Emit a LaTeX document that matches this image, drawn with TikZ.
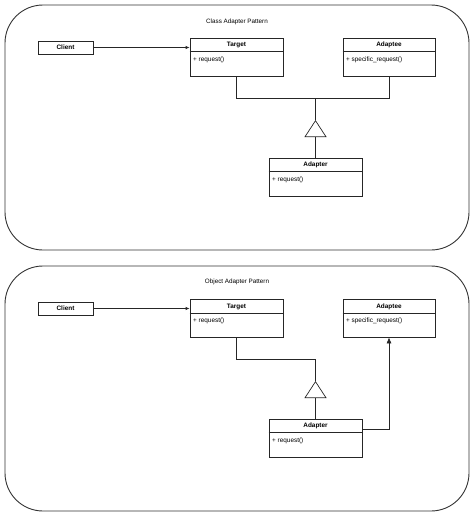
\documentclass[tikz,border=0pt]{standalone}
\usepackage{fontspec}
\setmainfont{Liberation Sans}
\usetikzlibrary{arrows.meta}
\begin{document}
\begin{tikzpicture}[x=1pt,y=-1pt,
  panel/.style={draw=black!80,line width=0.9pt,rounded corners=38pt},
  cls/.style={draw=black!85,line width=0.7pt,minimum width=93pt,minimum height=38pt,inner sep=0pt},
  smallbox/.style={draw=black!85,line width=0.7pt,minimum width=55pt,minimum height=13pt,inner sep=0pt,font=\fontsize{6.4}{7}\selectfont\bfseries},
  cname/.style={font=\fontsize{6.4}{7}\selectfont\bfseries,inner sep=0pt},
  member/.style={font=\fontsize{6.4}{7}\selectfont,inner sep=0pt,anchor=west},
  ttl/.style={font=\fontsize{6.3}{7}\selectfont,inner sep=0pt},
  wire/.style={draw=black!85,line width=0.7pt},
  call/.style={wire,-{Latex[length=4pt,width=3.5pt]}},
  inh/.style={wire,-{Triangle[open,length=17pt,width=22pt,line width=0.7pt]}},
  assoc/.style={wire,-{Latex[length=6pt,width=5pt]}}
]
\useasboundingbox (0,0) rectangle (474,517);

% ---------- Class Adapter Pattern ----------
\node[panel,minimum width=464pt,minimum height=245pt] (p1) at (237,127.5) {};
\node[ttl] (t1) at (237,22) {Class Adapter Pattern};

\node[smallbox] (client1) at (65.5,47.5) {Client};

\node[cls] (target1) at (236.5,57) {};
\draw[wire] (target1.north west) ++(0,14) -- ++(93,0);
\node[cname] (target1n) at (236.5,45) {Target};
\node[member] (target1m) at (193,60) {+ request()};

\node[cls,minimum width=92pt] (adaptee1) at (389,57) {};
\draw[wire] (adaptee1.north west) ++(0,14) -- ++(92,0);
\node[cname] (adaptee1n) at (389,45) {Adaptee};
\node[member] (adaptee1m) at (346,60) {+ specific\_request()};

\node[cls] (adapter1) at (315.5,177) {};
\draw[wire] (adapter1.north west) ++(0,14) -- ++(93,0);
\node[cname] (adapter1n) at (315.5,165) {Adapter};
\node[member] (adapter1m) at (272,180) {+ request()};

\draw[call] (client1.east) -- (target1.west |- client1.east);
\coordinate (j1) at (315.5,98);
\coordinate (tri1) at (315.5,120);
\draw[wire] (target1.south) -- ++(0,22) -| (adaptee1.south);
\draw[inh] (adapter1.north) -- (tri1);
\draw[wire] (tri1) -- (j1);

% ---------- Object Adapter Pattern ----------
\node[panel,minimum width=464pt,minimum height=245pt] (p2) at (237,388.5) {};
\node[ttl] (t2) at (237,282) {Object Adapter Pattern};

\node[smallbox] (client2) at (65.5,308.5) {Client};

\node[cls] (target2) at (236.5,318) {};
\draw[wire] (target2.north west) ++(0,15) -- ++(93,0);
\node[cname] (target2n) at (236.5,306.5) {Target};
\node[member] (target2m) at (193,321) {+ request()};

\node[cls,minimum width=92pt] (adaptee2) at (389,318) {};
\draw[wire] (adaptee2.north west) ++(0,15) -- ++(92,0);
\node[cname] (adaptee2n) at (389,306.5) {Adaptee};
\node[member] (adaptee2m) at (346,321) {+ specific\_request()};

\node[cls] (adapter2) at (315.5,438) {};
\draw[wire] (adapter2.north west) ++(0,14) -- ++(93,0);
\node[cname] (adapter2n) at (315.5,426) {Adapter};
\node[member] (adapter2m) at (272,441) {+ request()};

\draw[call] (client2.east) -- (target2.west |- client2.east);
\coordinate (tri2) at (315.5,381);
\draw[wire] (target2.south) -- ++(0,22) -| (tri2);
\draw[inh] (adapter2.north) -- (tri2);
\draw[assoc] ([yshift=9pt]adapter2.east) -| (adaptee2.south);
\end{tikzpicture}
\end{document}
